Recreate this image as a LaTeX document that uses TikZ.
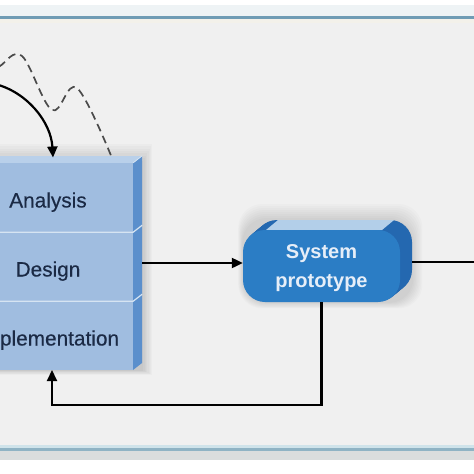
\documentclass[tikz,border=0pt]{standalone}
\usepackage{fontspec}
\setmainfont{Liberation Sans}
\newfontfamily\stagefont[FakeBold=0.35]{Liberation Sans}
\usetikzlibrary{arrows.meta,calc}
\definecolor{bgc}{HTML}{F0F0F0}
\definecolor{topband}{HTML}{EEF3F5}
\definecolor{framec}{HTML}{6F9CB5}
\definecolor{creamc}{HTML}{F3F1EA}
\definecolor{framelight}{HTML}{CFE3EA}
\definecolor{framebot}{HTML}{8FB3C4}
\definecolor{greyband}{HTML}{DADDDD}
\definecolor{boxfront}{HTML}{A0BDE0}
\definecolor{boxside}{HTML}{5B8FCC}
\definecolor{boxtop}{HTML}{B9D0EA}
\definecolor{boxline}{HTML}{D6E4F2}
\definecolor{boxtext}{HTML}{1B2A45}
\definecolor{protofront}{HTML}{2B7DC5}
\definecolor{protoside}{HTML}{2468B0}
\definecolor{prototop}{HTML}{B3CFE9}
\definecolor{prototext}{HTML}{E6EEF8}
\definecolor{dashc}{HTML}{4A4A4A}
\tikzset{
  stagebox/.style={fill=boxfront, draw=none, minimum width=170pt, minimum height=69pt,
    inner sep=0pt, text=boxtext, text height=20pt, text depth=0pt,
    font=\stagefont\fontsize{20.8}{24}\selectfont},
  protobox/.style={fill=protofront, draw=none, rounded corners=22pt, minimum width=157pt,
    minimum height=72pt, inner sep=0pt},
  prototxt/.style={inner sep=0pt, align=center, text=prototext,
    font=\fontsize{20}{29}\selectfont\bfseries},
  flow/.style={draw=black, line width=2.2pt, -{Triangle[length=11pt,width=10pt]}},
  plainflow/.style={draw=black, line width=2.2pt},
  dashflow/.style={draw=dashc, line width=1.7pt, dash pattern=on 8pt off 5pt}
}
\begin{document}
\begin{tikzpicture}[x=1pt,y=-1pt]
\useasboundingbox (0,0) rectangle (474,474);
\clip (0,0) rectangle (474,474);
% background and frame
\fill[white] (0,0) rectangle (474,474);
\fill[topband] (0,5) rectangle (474,15.5);
\fill[framec] (0,15.5) rectangle (474,18.5);
\fill[creamc] (0,18.5) rectangle (474,23);
\fill[bgc] (0,23) rectangle (474,445);
\fill[framelight] (0,445) rectangle (474,447.5);
\fill[framebot] (0,447.5) rectangle (474,451);
\fill[greyband] (0,451) rectangle (474,460);
% soft shadows
\foreach \s in {1,...,8}{
  \fill[black, opacity=0.02] (-40,163-\s*2.4) rectangle (142+\s*1.3,370+\s*0.6);
  \fill[black, opacity=0.015, rounded corners=24pt] (243-\s*0.6,220-\s*2) rectangle (412+\s*1.3,302+\s*0.8);
}
% left stack: side and top faces
\fill[boxside] (133,163) -- (142,156) -- (142,363) -- (133,370) -- cycle;
\fill[boxtop] (-40,163) -- (-31,156) -- (142,156) -- (133,163) -- cycle;
% stage nodes
\node[stagebox] (analysis) at (48,197.5) {Analysis};
\node[stagebox] (design)   at (48,266.5) {Design};
\node[stagebox] (impl)     at (48,335.5) {Implementation};
% divider lines
\draw[boxline, line width=1.2pt] (analysis.south west) -- (analysis.south east) -- ++(9,-7);
\draw[boxline, line width=1.2pt] (design.south west) -- (design.south east) -- ++(9,-7);
\draw[boxline, line width=0.8pt] (analysis.north east) -- ++(9,-7);
% prototype extrusion
\foreach \t in {1,0.9,...,0.05}{
  \fill[protoside, rounded corners=22pt] (243+12*\t,230-10*\t) rectangle (400+12*\t,302-10*\t);
}
\fill[prototop] (266,230) -- (278,220) -- (394,220) -- (382,230) -- cycle;
\node[protobox] (proto) at (321.5,266) {};
\node[prototxt] (protolabel) at (321.5,268.5) {System\\prototype};
% connectors
\coordinate (dout) at ($(design.east)+(9,-3.5)$);
\coordinate (pout) at ($(proto.east)+(12,-4)$);
\coordinate (rightend) at (480,262);
\coordinate (curvestart) at (-5,84);
\coordinate (loopcorner) at (proto.south |- 0,405);
\coordinate (implin) at (52,370);
\draw[flow] (dout) -- (dout -| proto.west);
\draw[plainflow] (pout) -- (pout -| rightend);
\draw[flow] (proto.south) -- (loopcorner) -- (loopcorner -| implin) -- (implin);
\draw[flow] (curvestart) .. controls (27,92) and (51,122) .. (53,157.5);
% dashed wave
\draw[dashflow] plot[smooth, tension=0.6] coordinates {(-12,74) (0,66) (22,56) (52,110) (77,88) (112,158)};
\end{tikzpicture}
\end{document}
